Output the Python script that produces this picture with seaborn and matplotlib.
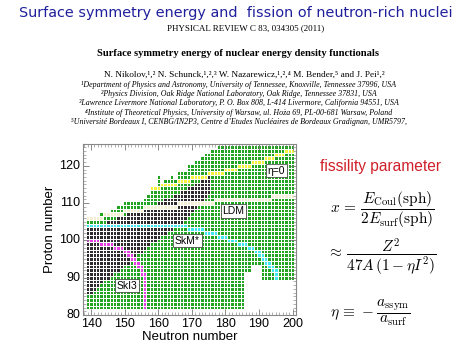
import numpy as np
import pandas as pd
import seaborn as sns
import matplotlib
matplotlib.use('Agg')
import matplotlib.pyplot as plt
from matplotlib.colors import ListedColormap

# nuclear chart grid (neutron columns, proton rows)
N_AXIS = list(range(139, 201))
Z_AXIS = list(range(80, 126))

# highest / lowest proton number of the computed region for every neutron column
Z_TOP = [106, 106, 106, 106, 107, 107, 107, 108, 108, 109, 109, 110, 110, 110, 110, 110, 110,
         111, 112, 114, 114, 117, 115, 116, 116, 117, 116, 118, 118, 118, 120, 120, 121, 121,
         122, 123, 123, 124, 124,
         125, 125, 125, 125, 125, 125, 125, 125, 125, 125, 125, 125, 125, 125, 125, 125, 125,
         125, 125, 125, 125, 125, 125]
Z_BOTTOM = [82] * 47 + [92, 92, 94, 94, 94] + [90] * 10

# dark band (per proton row: first and last neutron number)
BLACK_Z = list(range(86, 118))
BLACK_LO = [139] * 19 + [145, 148, 151, 154, 157, 160, 162, 165, 167, 169, 171, 173, 174]
BLACK_HI = [140, 141, 142, 143, 145, 146, 148, 149, 151, 152, 153, 155, 156, 157, 159, 160,
            162, 164, 166, 167, 168, 169, 170, 171, 172, 173, 174, 175, 175, 175, 175, 175]

# contour lines as horizontal runs: from N, to N, at Z
ETA0_FROM = [158, 161, 166, 170, 175, 180, 184, 188, 192, 195, 198]
ETA0_TO = [160, 165, 169, 174, 179, 183, 187, 191, 194, 197, 200]
ETA0_Z = [114, 115, 116, 117, 118, 119, 120, 121, 122, 123, 124]

LDM_FROM = [139, 144, 150, 156, 166, 177, 194]
LDM_TO = [143, 149, 155, 165, 176, 193, 200]
LDM_Z = [106, 107, 108, 109, 110, 111, 112]

SKM_FROM = [139, 169, 174, 178, 181, 184, 187, 189, 190, 191, 192, 193, 194, 195, 195]
SKM_TO = [168, 173, 177, 180, 183, 186, 188, 190, 191, 192, 193, 194, 195, 195, 195]
SKM_Z = [104, 103, 102, 101, 100, 99, 98, 97, 96, 95, 94, 93, 92, 91, 90]

SKI3_FROM = [139, 143, 147, 150, 151, 152, 153, 154, 155, 155, 156, 156, 156, 156, 156, 156, 156, 156, 156]
SKI3_TO = [142, 146, 149, 151, 152, 153, 154, 155, 155, 156, 156, 156, 156, 156, 156, 156, 156, 156, 156]
SKI3_Z = [100, 99, 98, 97, 96, 95, 94, 93, 92, 91, 90, 89, 88, 87, 86, 85, 84, 83, 82]

X_TICKS = [140, 150, 160, 170, 180, 190, 200]
Y_TICKS = [80, 90, 100, 110, 120]

# labels placed on the chart (N, Z)
LABELS = ['\u03b7=0', 'LDM', 'SkM*', 'SkI3']
LABEL_N = [195.2, 182.4, 168.7, 150.7]
LABEL_Z = [118.7, 107.9, 99.9, 87.8]

CELL_COLORS = ['#22a322', '#2e2a2e', '#f2f23a', '#f4eed2', '#3fe6ee', '#e23ce2']


def build_grid():
    grid = np.full((len(Z_AXIS), len(N_AXIS)), np.nan)
    z0, n0 = Z_AXIS[0], N_AXIS[0]
    for j, n in enumerate(N_AXIS):
        grid[Z_BOTTOM[j] - z0:Z_TOP[j] - z0 + 1, j] = 0
    for z, lo, hi in zip(BLACK_Z, BLACK_LO, BLACK_HI):
        row = grid[z - z0]
        sel = slice(lo - n0, hi - n0 + 1)
        row[sel] = np.where(np.isnan(row[sel]), np.nan, 1)
    for code, (fr, to, zz) in enumerate([(ETA0_FROM, ETA0_TO, ETA0_Z), (LDM_FROM, LDM_TO, LDM_Z),
                                         (SKM_FROM, SKM_TO, SKM_Z), (SKI3_FROM, SKI3_TO, SKI3_Z)]):
        for a, b, z in zip(fr, to, zz):
            grid[z - z0, a - n0:b - n0 + 1] = code + 2
    return pd.DataFrame(grid, index=Z_AXIS, columns=N_AXIS)


def px(x, y):
    return x / 474, 1 - y / 355


fig = plt.figure(figsize=(4.74, 3.55), dpi=100)
serif = ['Liberation Serif', 'DejaVu Serif']
sans = ['Liberation Sans', 'DejaVu Sans']

fig.text(*px(236, 13), 'Surface symmetry energy and  fission of neutron-rich nuclei',
         ha='center', va='center', fontsize=10.4, color='#1f1f9c', family='DejaVu Sans')
fig.text(*px(246, 28), 'PHYSICAL REVIEW C 83, 034305 (2011)', ha='center', va='center',
         fontsize=6.5, family=serif)
fig.text(*px(238, 53), 'Surface symmetry energy of nuclear energy density functionals',
         ha='center', va='center', fontsize=7.6, family=serif, weight='bold')
fig.text(*px(244, 75), 'N. Nikolov,\u00b9,\u00b2 N. Schunck,\u00b9,\u00b2,\u00b3 W. Nazarewicz,'
         '\u00b9,\u00b2,\u2074 M. Bender,\u2075 and J. Pei\u00b9,\u00b2',
         ha='center', va='center', fontsize=6.7, family=serif)
AFFILIATIONS = [
    '\u00b9Department of Physics and Astronomy, University of Tennessee, Knoxville, Tennessee 37996, USA',
    '\u00b2Physics Division, Oak Ridge National Laboratory, Oak Ridge, Tennessee 37831, USA',
    '\u00b3Lawrence Livermore National Laboratory, P. O. Box 808, L-414 Livermore, California 94551, USA',
    '\u2074Institute of Theoretical Physics, University of Warsaw, ul. Ho\u017ca 69, PL-00-681 Warsaw, Poland',
    '\u2075Universit\u00e9 Bordeaux I, CENBG/IN2P3, Centre d\u2019Etudes Nucl\u00e9aires de Bordeaux Gradignan, UMR5797,',
]
for i, line in enumerate(AFFILIATIONS):
    fig.text(*px(239, 85 + 9.2 * i), line, ha='center', va='center', fontsize=5.7,
             family=serif, style='italic')

fig.text(*px(320, 167), 'fissility parameter', ha='left', va='center', fontsize=11.2,
         color='#d0202a', family=sans)
plt.rcParams['mathtext.fontset'] = 'cm'
fig.text(*px(330, 210), r'$x\,=\,\dfrac{E_{\rm Coul}({\rm sph})}{2E_{\rm surf}({\rm sph})}$',
         ha='left', va='center', fontsize=11)
fig.text(*px(327, 257), r'$\approx\,\dfrac{Z^2}{47A\,(1-\eta I^2)}$',
         ha='left', va='center', fontsize=11)
fig.text(*px(330, 313), r'$\eta\,\equiv\,-\dfrac{a_{\rm ssym}}{a_{\rm surf}}$',
         ha='left', va='center', fontsize=11)

ax = fig.add_axes([83 / 474, 1 - 315 / 355, 213 / 474, 171 / 355])
sns.heatmap(build_grid(), cmap=ListedColormap(CELL_COLORS), vmin=-0.5, vmax=5.5, cbar=False,
            linewidths=0.5, linecolor='white', ax=ax)
# crisp pixel-aligned cell borders like the original raster
ax.collections[0].set_antialiased(False)

n0, z0 = N_AXIS[0] - 0.5, Z_AXIS[0] - 0.5
ax.set_xlim(137.6 - n0, 201.0 - n0)
ax.set_ylim(80.0 - z0, 125.85 - z0)
ax.set_xticks([t - n0 for t in X_TICKS])
ax.set_xticklabels([str(t) for t in X_TICKS], rotation=0, fontsize=9, family=sans)
ax.set_yticks([t - z0 for t in Y_TICKS])
ax.set_yticklabels([str(t) for t in Y_TICKS], rotation=0, fontsize=9, family=sans)
ax.set_xticks([t - n0 for t in range(138, 202)], minor=True)
ax.set_yticks([t - z0 for t in range(80, 126)], minor=True)
ax.tick_params(which='both', direction='in', top=True, right=True, color='#777777')
ax.tick_params(which='major', length=4, width=0.6, pad=2)
ax.tick_params(which='minor', length=2, width=0.4)
for s in ax.spines.values():
    s.set_visible(True)
    s.set_color('#888888')
    s.set_linewidth(0.8)
ax.set_xlabel('Neutron number', fontsize=9.5, family=sans, labelpad=1)
ax.set_ylabel('Proton number', fontsize=9.5, family=sans, labelpad=2)

for text, n, z in zip(LABELS, LABEL_N, LABEL_Z):
    ax.text(n - n0, z - z0, text, ha='center', va='center', fontsize=7.5, family=sans,
            bbox=dict(boxstyle='square,pad=0.15', fc='white', ec='#333333', lw=0.5))

fig.savefig('out.png', dpi=100)
